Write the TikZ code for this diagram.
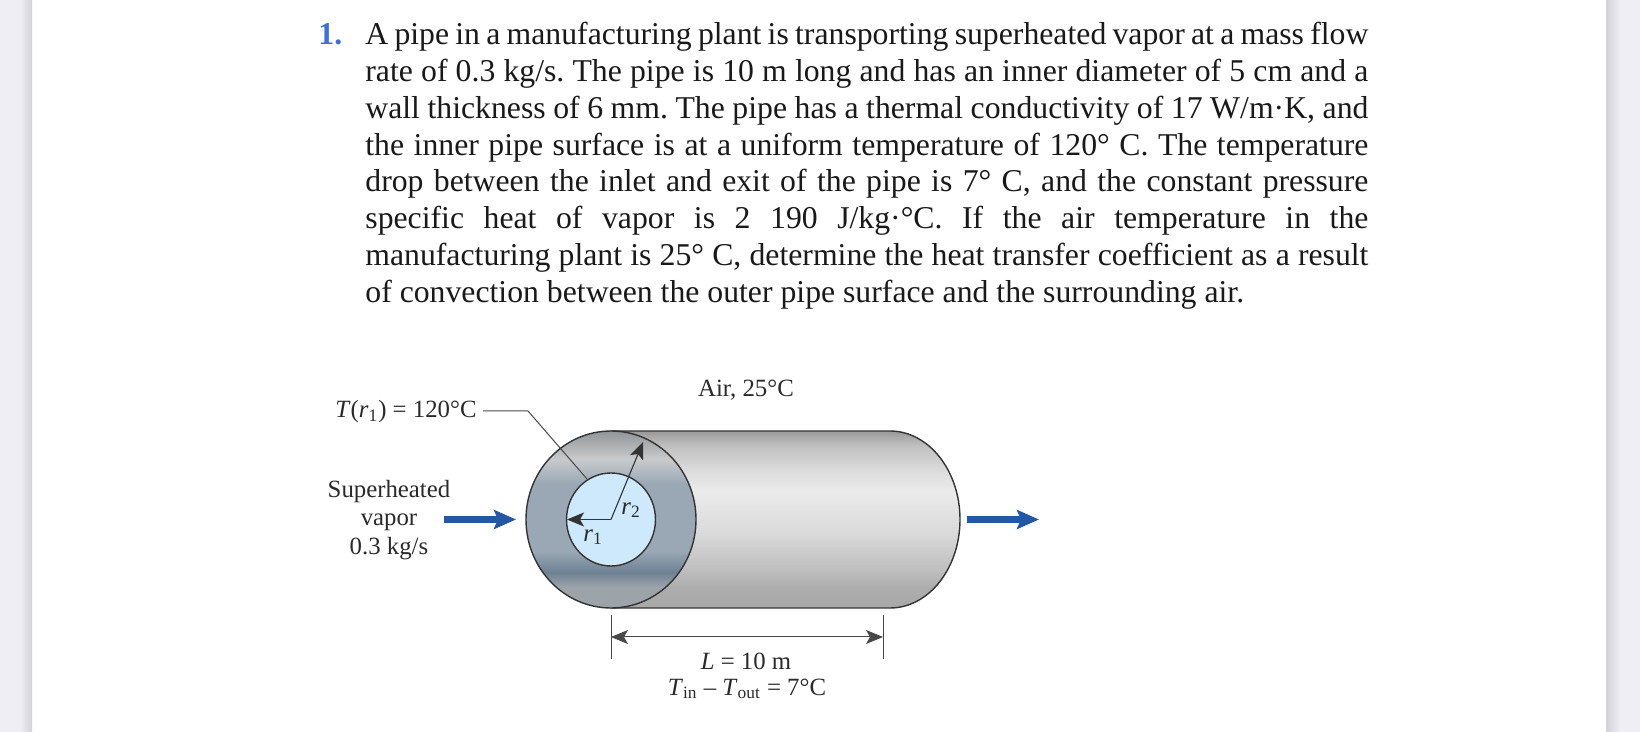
\documentclass[tikz,border=0pt]{standalone}
\usepackage{fontspec}
\setmainfont{Liberation Serif}
\usepackage{xcolor}
\usetikzlibrary{arrows}
\usetikzlibrary{arrows.meta}
\usetikzlibrary{calc}

\definecolor{pagegrey}{HTML}{EEEEF4}
\definecolor{shadegrey}{HTML}{D2D2D8}
\definecolor{numblue}{HTML}{3F6FD8}
\definecolor{flowblue}{HTML}{2458A4}
\definecolor{vapourblue}{HTML}{CDE9FB}
\definecolor{edgegrey}{HTML}{333333}
\definecolor{leadergrey}{HTML}{484848}
\definecolor{labelgrey}{HTML}{2A2A2A}

\pgfdeclareverticalshading{pipebody}{100bp}{
  color(0bp)=(black!34);
  color(25bp)=(black!34);
  color(31bp)=(black!32);
  color(36bp)=(black!25);
  color(47bp)=(black!14);
  color(58bp)=(black!8);
  color(64bp)=(black!14);
  color(71bp)=(black!25);
  color(75bp)=(black!40);
  color(100bp)=(black!40)
}
\definecolor{ringtop}{HTML}{929597}
\definecolor{ringlight}{HTML}{C8CACC}
\definecolor{ringmid}{HTML}{99A8B4}
\definecolor{ringdark}{HTML}{6E8193}
\definecolor{ringlow}{HTML}{9CA3A9}
\pgfdeclareverticalshading{pipering}{100bp}{
  color(0bp)=(ringlow);
  color(25bp)=(ringlow);
  color(31bp)=(ringlow);
  color(35bp)=(ringdark);
  color(41bp)=(ringmid);
  color(60bp)=(ringmid);
  color(67bp)=(ringlight);
  color(75bp)=(ringtop);
  color(100bp)=(ringtop)
}

\tikzset{
  bodytext/.style={inner sep=0pt, anchor=north west, text=black!90,
    font=\fontsize{15.87}{18.36}\selectfont},
  figlabel/.style={inner sep=0pt, text=labelgrey, align=center,
    font=\fontsize{12.4}{14.2}\selectfont},
  pipeline/.style={draw=edgegrey, line width=0.7pt},
  thinline/.style={draw=leadergrey, line width=0.5pt},
  radius arrow/.style={draw=edgegrey, line width=0.55pt, -{Stealth[length=8.5pt, width=7pt, inset=2pt]}},
  dim arrow/.style={thinline, {Stealth[length=8.5pt, width=7pt, inset=2pt]}-{Stealth[length=8.5pt, width=7pt, inset=2pt]}},
  flow arrow/.style={draw=flowblue, line width=3.7pt,
    -{Stealth[length=11pt, width=9.5pt, inset=2pt]}}
}

\begin{document}
\frenchspacing
\begin{tikzpicture}[x=0.5pt, y=-0.5pt]

    \useasboundingbox (0, 0) rectangle (1640, 732);

    % page margins
    \fill [pagegrey] (0, 0) rectangle (32, 732);
    \shade [left color=pagegrey, right color=shadegrey] (20, 0) rectangle (32, 732);
    \fill [pagegrey] (1606, 0) rectangle (1640, 732);
    \shade [left color=shadegrey, right color=pagegrey] (1606, 0) rectangle (1620, 732);

    % problem text
    \node (number) [bodytext, text=numblue, anchor=base west] at (318, 45) {\textbf{1.}};
    \node (problem) [bodytext, anchor=base west, text width=501.5pt, align=justify] at (365, 45)
    {A pipe in a manufacturing plant is transporting superheated vapor at a mass flow\linebreak
    rate of 0.3 kg/s. The pipe is 10 m long and has an inner diameter of 5 cm and a\linebreak
    wall thickness of 6 mm. The pipe has a thermal conductivity of 17 W/m·K, and\linebreak
    the inner pipe surface is at a uniform temperature of 120° C. The temperature\linebreak
    drop between the inlet and exit of the pipe is 7° C, and the constant pressure\linebreak
    specific heat of vapor is 2 190 J/kg·°C. If the air temperature in the\linebreak
    manufacturing plant is 25° C, determine the heat transfer coefficient as a result\linebreak
    of convection between the outer pipe surface and the surrounding air.};

    % pipe
    \coordinate (centre) at (611, 519.5);
    \shade [shading=pipebody, pipeline] (611, 431) -- (890, 431)
    arc [start angle=-90, end angle=90, x radius=70, y radius=88.5]
    -- (611, 608) -- cycle;
    \shade [shading=pipering, pipeline] (centre) ellipse [x radius=85, y radius=88.5];
    \filldraw [fill=vapourblue, pipeline] (centre) ellipse [x radius=44.5, y radius=46.5];

    % radii
    \coordinate (r1 tip) at (567, 519.5);
    \coordinate (r2 tip) at (643, 442);
    \draw [radius arrow] (centre) -- (r1 tip);
    \draw [radius arrow] (centre) -- (r2 tip);
    \node (r1 label) [figlabel] at (593, 537) {\textit{r}\textsubscript{1}};
    \node (r2 label) [figlabel] at (631, 510) {\textit{r}\textsubscript{2}};

    % labels round the pipe
    \node (air) [figlabel] at (746, 390) {Air, 25°C};
    \node (wall temp) [figlabel, anchor=east] at (477, 412)
    {\textit{T}(\textit{r}\textsubscript{1}) = 120°C};
    \coordinate (leader start) at (483, 411);
    \coordinate (leader bend) at (528, 411);
    \coordinate (leader end) at (587, 479);
    \draw [thinline] (leader start) -- (leader bend) -- (leader end);

    % flow
    \node (vapor) [figlabel] at (389, 520) {Superheated\\vapor\\0.3 kg/s};
    \coordinate (in tail) at (444, 519.5);
    \coordinate (in head) at (516, 519.5);
    \coordinate (out tail) at (967, 519.5);
    \coordinate (out head) at (1039, 519.5);
    \draw [flow arrow] (in tail) -- (in head);
    \draw [flow arrow] (out tail) -- (out head);

    % length
    \coordinate (left top) at (611, 615);
    \coordinate (left bottom) at (611, 659);
    \coordinate (right top) at (883, 615);
    \coordinate (right bottom) at (883, 659);
    \draw [thinline] (left top) -- (left bottom);
    \draw [thinline] (right top) -- (right bottom);
    \draw [dim arrow] ($(left top)!0.5!(left bottom)$) -- ($(right top)!0.5!(right bottom)$);
    \node (length) [figlabel] at (746, 661) {\textit{L} = 10 m};
    \node (drop) [figlabel] at (747, 689)
    {\textit{T}\textsubscript{in} – \textit{T}\textsubscript{out} = 7°C};

  \end{tikzpicture}
\end{document}
